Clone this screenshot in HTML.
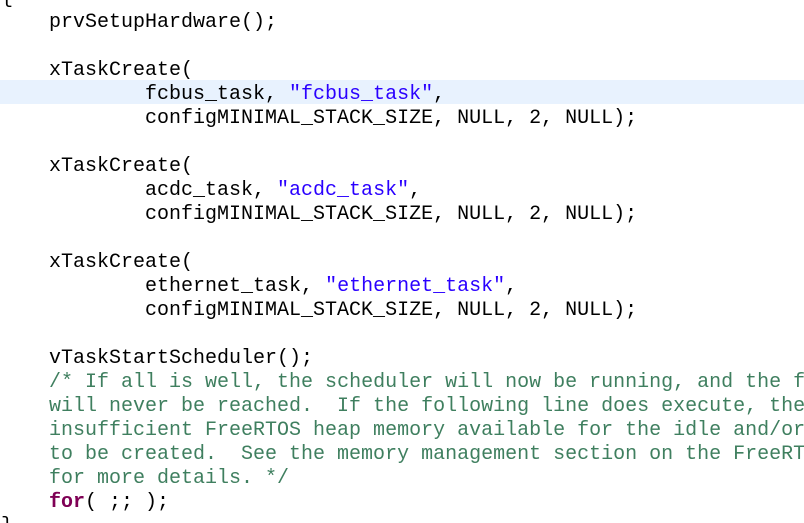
<!DOCTYPE html>
<html><head><meta charset="utf-8"><style>
html,body{margin:0;padding:0;background:#fff;width:804px;height:523px;overflow:hidden;position:relative}
pre{position:absolute;left:1px;top:-13px;width:803px;height:536px;overflow:hidden;margin:0;font-family:"Liberation Mono",monospace;font-size:20px;line-height:24px;color:#000;white-space:pre}
.s{color:#2a00ff}.c{color:#3f7f5f}.k{color:#7f0055;font-weight:bold}
.hl{position:absolute;left:0;top:80px;width:804px;height:24px;background:#e8f2fe}
</style></head><body>
<div class="hl"></div>
<pre>{
    prvSetupHardware();

    xTaskCreate(
            fcbus_task, <span class="s">"fcbus_task"</span>,
            configMINIMAL_STACK_SIZE, NULL, 2, NULL);

    xTaskCreate(
            acdc_task, <span class="s">"acdc_task"</span>,
            configMINIMAL_STACK_SIZE, NULL, 2, NULL);

    xTaskCreate(
            ethernet_task, <span class="s">"ethernet_task"</span>,
            configMINIMAL_STACK_SIZE, NULL, 2, NULL);

    vTaskStartScheduler();
    <span class="c">/* If all is well, the scheduler will now be running, and the f
    will never be reached.  If the following line does execute, the
    insufficient FreeRTOS heap memory available for the idle and/or
    to be created.  See the memory management section on the FreeRT
    for more details. */</span>
    <span class="k">for</span>( ;; );
}</pre>
</body></html>
